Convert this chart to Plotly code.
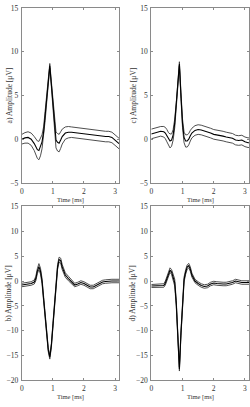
import plotly.graph_objects as go

# Time grid [ms]
T = [0, 0.1, 0.2, 0.3, 0.4, 0.45, 0.5, 0.55, 0.6, 0.65, 0.7, 0.75, 0.8, 0.85, 0.9,
     0.95, 1.0, 1.05, 1.1, 1.15, 1.2, 1.25, 1.3, 1.4, 1.5, 1.6, 1.7, 1.8, 1.9, 2.0,
     2.1, 2.2, 2.3, 2.4, 2.5, 2.6, 2.7, 2.8, 2.9, 3.0, 3.1, 3.13]

# Panel a) mean and spread
A_mean = [0.0, 0.15, 0.2, 0.0, -0.5, -0.9, -1.2, -1.3, -0.9, -0.3, 0.8, 2.6, 4.6, 6.8, 8.4,
          6.3, 3.8, 1.4, -0.1, -0.35, -0.45, -0.1, 0.3, 0.7, 0.8, 0.8, 0.75, 0.7, 0.65, 0.6,
          0.55, 0.5, 0.45, 0.4, 0.35, 0.35, 0.3, 0.3, 0.2, -0.1, -0.4, -0.5]
A_sd = [0.55, 0.6, 0.65, 0.7, 0.8, 0.9, 1.0, 1.05, 1.0, 0.8, 0.6, 0.5, 0.4, 0.3, 0.25,
        0.3, 0.5, 0.7, 0.9, 1.0, 1.0, 0.95, 0.85, 0.7, 0.65, 0.6, 0.6, 0.6, 0.6, 0.6,
        0.6, 0.6, 0.6, 0.6, 0.6, 0.6, 0.6, 0.6, 0.6, 0.6, 0.6, 0.6]

# Panel c)
C_mean = [0.6, 0.7, 0.8, 0.9, 0.85, 0.7, 0.4, 0.0, -0.2, -0.1, 0.5, 1.8, 3.8, 6.2, 8.6,
          5.0, 1.8, 0.2, -0.2, -0.2, 0.0, 0.4, 0.7, 1.0, 1.1, 1.05, 0.95, 0.8, 0.7, 0.55,
          0.5, 0.45, 0.35, 0.25, 0.15, 0.1, -0.1, -0.15, -0.1, -0.3, -0.4, -0.4]
C_sd = [0.55, 0.55, 0.55, 0.55, 0.6, 0.65, 0.7, 0.75, 0.8, 0.7, 0.6, 0.5, 0.4, 0.3, 0.25,
        0.35, 0.5, 0.6, 0.7, 0.7, 0.65, 0.6, 0.55, 0.55, 0.55, 0.55, 0.55, 0.55, 0.55, 0.55,
        0.55, 0.55, 0.55, 0.55, 0.55, 0.55, 0.55, 0.55, 0.55, 0.55, 0.55, 0.55]

# Panel b)
B_mean = [-0.8, -0.75, -0.65, -0.5, -0.2, 0.5, 2.0, 2.9, 2.0, 0.0, -3.5, -7.0, -10.5, -13.8, -15.3,
          -13.0, -9.0, -4.5, -0.5, 2.8, 4.3, 4.1, 2.8, 1.2, 0.5, -0.2, -0.8, -0.6, -0.3, -0.5,
          -0.8, -1.2, -1.2, -0.9, -0.5, -0.2, -0.1, 0.0, 0.0, 0.0, 0.0, 0.0]
B_sd = [0.35, 0.35, 0.35, 0.35, 0.4, 0.45, 0.5, 0.6, 0.6, 0.55, 0.5, 0.45, 0.4, 0.4, 0.4,
        0.4, 0.45, 0.5, 0.5, 0.5, 0.5, 0.5, 0.5, 0.45, 0.45, 0.4, 0.35, 0.35, 0.35, 0.35,
        0.35, 0.35, 0.35, 0.35, 0.35, 0.35, 0.35, 0.35, 0.35, 0.35, 0.35, 0.35]

# Panel d)
D_mean = [-1.0, -1.0, -1.0, -1.0, -0.9, -0.4, 0.6, 1.6, 2.2, 1.8, 0.8, -0.3, -4.5, -11.0, -17.7,
          -10.5, -4.5, 0.3, 1.8, 2.8, 3.1, 2.4, 1.2, 0.0, -0.5, -0.9, -1.1, -1.0, -0.6, -0.4,
          -0.5, -0.6, -0.6, -0.6, -0.5, -0.3, 0.0, -0.2, -0.3, -0.3, -0.3, -0.3]
D_sd = [0.3, 0.3, 0.3, 0.3, 0.35, 0.4, 0.45, 0.5, 0.45, 0.5, 0.6, 0.7, 0.6, 0.5, 0.4,
        0.5, 0.5, 0.5, 0.45, 0.45, 0.45, 0.45, 0.4, 0.35, 0.35, 0.35, 0.35, 0.35, 0.35, 0.35,
        0.35, 0.35, 0.35, 0.35, 0.35, 0.35, 0.35, 0.35, 0.35, 0.35, 0.35, 0.35]

X_TICKS = [0, 1, 2, 3]
Y_TICKS_TOP = [-5, 0, 5, 10, 15]
Y_TICKS_BOT = [-20, -15, -10, -5, 0, 5, 10, 15]
Y_TITLES = ["a) Amplitude [μV]", "c) Amplitude [μV]", "b) Amplitude [μV]", "d) Amplitude [μV]"]
X_TITLE = "Time [ms]"

W, H = 250, 407
FONT = "Liberation Serif"
AX_COL = "#8a8a8a"
TXT_COL = "#333333"

# panel pixel boxes: (left, right, top, bottom)
boxes = [(20, 118, 4, 183), (150.5, 249, 4, 183), (20, 118, 207, 385), (150.5, 249, 207, 385)]
ytitle_x = [7, 132, 7, 132]
panels = [(A_mean, A_sd), (C_mean, C_sd), (B_mean, B_sd), (D_mean, D_sd)]
yranges = [[-5, 15], [-5, 15], [-20, 15], [-20, 15]]
yticks = [Y_TICKS_TOP, Y_TICKS_TOP, Y_TICKS_BOT, Y_TICKS_BOT]

fig = go.Figure()
annotations = []
for i, ((mean, sd), box) in enumerate(zip(panels, boxes)):
    sfx = "" if i == 0 else str(i + 1)
    upper = [m + s for m, s in zip(mean, sd)]
    lower = [m - s for m, s in zip(mean, sd)]
    for ys, col, w in [(upper, "#3a3a3a", 0.9), (lower, "#3a3a3a", 0.9), (mean, "#000000", 1.1)]:
        fig.add_trace(go.Scatter(x=T, y=ys, mode="lines", line=dict(color=col, width=w),
                                 xaxis="x" + sfx, yaxis="y" + sfx, showlegend=False,
                                 hoverinfo="skip"))
    l, r, t, b = box
    common = dict(showline=True, linecolor=AX_COL, linewidth=1, mirror="ticks",
                  ticks="inside", ticklen=2, tickcolor=AX_COL, tickwidth=1,
                  showgrid=False, zeroline=False,
                  tickfont=dict(family=FONT, size=7.5, color=TXT_COL))
    fig.update_layout(**{
        "xaxis" + sfx: dict(domain=[l / W, r / W], range=[0, 3.13], tickvals=X_TICKS,
                            anchor="y" + sfx, ticklabelstandoff=1, **common),
        "yaxis" + sfx: dict(domain=[1 - b / H, 1 - t / H], range=yranges[i], tickvals=yticks[i],
                            anchor="x" + sfx, ticklabelstandoff=1, **common),
    })
    annotations.append(dict(text=X_TITLE, x=(l + r) / 2 / W, y=1 - (b + 17) / H,
                            xref="paper", yref="paper", showarrow=False,
                            xanchor="center", yanchor="middle",
                            font=dict(family=FONT, size=6.5, color=TXT_COL)))
    annotations.append(dict(text=Y_TITLES[i], x=ytitle_x[i] / W, y=1 - (t + b) / 2 / H,
                            xref="paper", yref="paper", showarrow=False, textangle=-90,
                            xanchor="center", yanchor="middle",
                            font=dict(family=FONT, size=7.5, color=TXT_COL)))

fig.update_layout(width=W, height=H, margin=dict(l=0, r=0, t=0, b=0),
                  paper_bgcolor="white", plot_bgcolor="white", annotations=annotations)
fig.write_html("out.html", config={"displayModeBar": False},
               post_script="document.body.style.margin='0';")
